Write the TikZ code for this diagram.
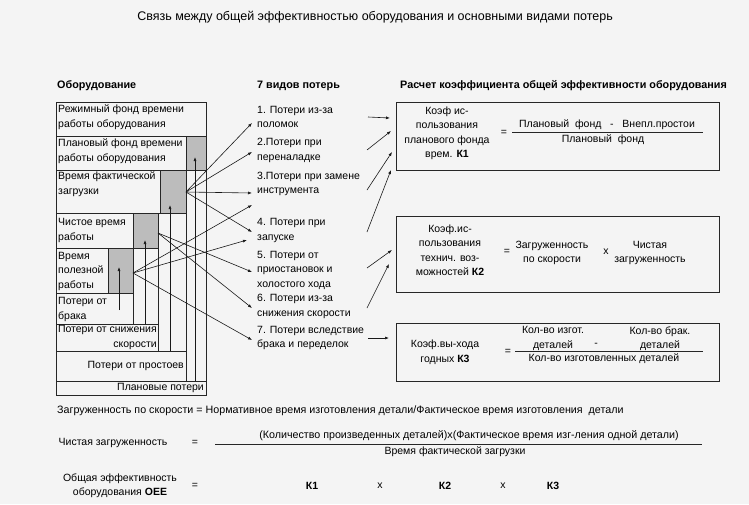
\documentclass[tikz,border=0pt]{standalone}
\usepackage{fontspec}
\setmainfont{Liberation Sans}
\usetikzlibrary{arrows.meta}
\definecolor{lossgray}{RGB}{188,188,188}
\definecolor{paper}{RGB}{244,244,244}

\begin{document}
\begin{tikzpicture}[x=1pt, y=-1pt,
    txt/.style={inner sep=0pt, font=\fontsize{10.5}{14.5}\selectfont},
    hd/.style={inner sep=0pt, font=\fontsize{10.8}{14}\selectfont\bfseries},
    frame/.style={draw=black!85, line width=0.6pt},
    arr/.style={draw=black!90, line width=0.6pt, -{Latex[length=4pt,width=3pt]}}]
  \path[use as bounding box, fill=paper] (0,0) rectangle (749,504);

  \node[txt, font=\fontsize{12.5}{14}\selectfont] (title) at (375,17)
    {Связь между общей эффективностью оборудования и основными видами потерь};

  % headings
  \node[hd, anchor=west] (hequip) at (57,86) {Оборудование};
  \node[hd, anchor=west] (hloss) at (257,86) {7 видов потерь};
  \node[hd, anchor=west] (hcalc) at (400,86) {Расчет коэффициента общей эффективности оборудования};

  % staircase of equipment time
  \draw[frame] (56,102) rectangle (206,136);
  \foreach \ytop/\ybot/\xa/\xb in {136/170/186/206, 170/213/160/186, 213/248/133/158, 248/293/108/133}{
    \draw[frame] (56,\ytop) rectangle (\xa,\ybot);
    \filldraw[frame, fill=lossgray] (\xa,\ytop) rectangle (\xb,\ybot);
  }
  % loss boxes, their right edges run up to the gray parts
  \draw[frame] (56,293) rectangle (133,324);
  \draw[frame] (56,324) rectangle (158,351);
  \draw[frame] (56,351) rectangle (186,381);
  \draw[frame] (56,381) rectangle (206,395);
  \draw[frame] (158,248) -- (158,324);
  \draw[frame] (186,213) -- (186,351);
  \draw[frame] (206,170) -- (206,381);

  \node[txt, anchor=west, align=left] (rf) at (58,117) {Режимный фонд времени\\работы оборудования};
  \node[txt, anchor=west, align=left] (pf) at (58,151) {Плановый фонд времени\\работы оборудования};
  \node[txt, anchor=west, align=left] (fz-t) at (58,184) {Время фактической\\загрузки};
  \node[txt, anchor=west, align=left] (cv-t) at (58,230.5) {Чистое время\\работы};
  \node[txt, anchor=west, align=left] (pv-t) at (58,271) {Время\\полезной\\работы};
  \node[txt, anchor=west, align=left] (lbrak) at (58,309.5) {Потери от\\брака};
  \node[txt, anchor=east, align=right] (lspeed) at (157,337.5) {Потери от снижения\\скорости};
  \node[txt, anchor=east] (ldown) at (184,366) {Потери от простоев};
  \node[txt, anchor=east] (lplan) at (204,388) {Плановые потери};

  % vertical loss arrows
  \coordinate (brak-s) at (119,310);  \coordinate (brak-e) at (119,267);
  \coordinate (speed-s) at (145,324); \coordinate (speed-e) at (145,240);
  \coordinate (down-s) at (170,351);  \coordinate (down-e) at (170,205);
  \coordinate (plan-s) at (195,381);  \coordinate (plan-e) at (195,157);
  \draw[arr] (brak-s) -- (brak-e);
  \draw[arr] (speed-s) -- (speed-e);
  \draw[arr] (down-s) -- (down-e);
  \draw[arr] (plan-s) -- (plan-e);

  % seven losses
  \node[txt, anchor=west, align=left] (p1) at (257,117) {1. Потери из-за\\поломок};
  \node[txt, anchor=west, align=left] (p2) at (257,150.5) {2.Потери при\\переналадке};
  \node[txt, anchor=west, align=left] (p3) at (257,184) {3.Потери при замене\\инструмента};
  \node[txt, anchor=west, align=left] (p4) at (257,230.5) {4. Потери при\\запуске};
  \node[txt, anchor=west, align=left] (p5) at (257,270) {5. Потери от\\приостановок и\\холостого хода};
  \node[txt, anchor=west, align=left] (p6) at (257,306.5) {6. Потери из-за\\снижения скорости};
  \node[txt, anchor=west, align=left] (p7) at (257,338) {7. Потери вследствие\\брака и переделок};

  % fans from the gray parts
  \coordinate (fz) at (186,192);
  \coordinate (cv) at (158,233);
  \coordinate (pv) at (133,273);
  \coordinate (f1) at (252,123);
  \coordinate (f2) at (252,152);
  \coordinate (f3) at (252,193);
  \coordinate (f4) at (252,232);
  \coordinate (c5) at (252,272);
  \coordinate (c6) at (252,308);
  \coordinate (u3) at (252,205);
  \coordinate (u4) at (247,240);
  \coordinate (u7) at (252,340);
  \foreach \t in {f1,f2,f3,f4} \draw[arr] (fz) -- (\t);
  \foreach \t in {c5,c6} \draw[arr] (cv) -- (\t);
  \foreach \t in {u3,u4,u7} \draw[arr] (pv) -- (\t);

  % coefficient boxes
  \node[frame, anchor=north west, minimum width=323, minimum height=68, inner sep=0] (k1) at (396,102) {};
  \node[frame, anchor=north west, minimum width=323, minimum height=76, inner sep=0] (k2) at (396,216) {};
  \node[frame, anchor=north west, minimum width=323, minimum height=58, inner sep=0] (k3) at (396,323) {};

  % short arrows into the boxes
  \coordinate (a1s) at (368,117); \coordinate (a1e) at (390,118);
  \coordinate (a2s) at (367,150); \coordinate (a2e) at (391,131);
  \coordinate (a3s) at (367,190); \coordinate (a3e) at (392,152);
  \coordinate (a4s) at (367,232); \coordinate (a4e) at (391,170);
  \coordinate (a5s) at (367,268); \coordinate (a5e) at (392,250);
  \coordinate (a6s) at (367,308); \coordinate (a6e) at (389,264);
  \coordinate (a7s) at (368,338); \coordinate (a7e) at (389,338);
  \foreach \n in {1,...,7} \draw[arr] (a\n s) -- (a\n e);

  % K1
  \node[txt, align=center] (k1name) at (447,133.5) {Коэф ис-\\пользования\\планового фонда\\врем. \textbf{К1}};
  \node[txt] (k1eq) at (504,133) {=};
  \node[txt] (k1num) at (607,125) {Плановый\ \ фонд\ \ \ -\ \ \ Внепл.простои};
  \node[txt] (k1den) at (603,139.5) {Плановый\ \ фонд};
  \coordinate (k1l) at (512,132); \coordinate (k1r) at (703,132);
  \draw[frame] (k1l) -- (k1r);

  % K2
  \node[txt, align=center] (k2name) at (450,250) {Коэф.ис-\\пользования\\технич. воз-\\можностей \textbf{К2}};
  \node[txt] (k2eq) at (507,252) {=};
  \node[txt, align=center] (k2a) at (552,253) {Загруженность\\по скорости};
  \node[txt] (k2x) at (606,252) {х};
  \node[txt, align=center] (k2b) at (650,253) {Чистая\\загруженность};

  % K3
  \node[txt, align=center] (k3name) at (445,352) {Коэф.вы-хода\\годных \textbf{К3}};
  \node[txt] (k3eq) at (508,352) {=};
  \node[txt, align=center] (k3a) at (553,338.5) {Кол-во изгот.\\деталей};
  \node[txt] (k3m) at (596,345) {-};
  \node[txt, align=center] (k3b) at (660,338.5) {Кол-во брак.\\деталей};
  \coordinate (k3l) at (515,351); \coordinate (k3r) at (703,351);
  \draw[frame] (k3l) -- (k3r);
  \node[txt] (k3den) at (604,359) {Кол-во изготовленных деталей};

  % formulas below
  \node[txt, anchor=west, font=\fontsize{10.7}{13}\selectfont] (zs) at (57,411)
    {Загруженность по скорости = Нормативное время изготовления детали/Фактическое время изготовления\ \ детали};
  \node[txt] (cz) at (113,443) {Чистая загруженность};
  \node[txt] (czeq) at (195,443) {=};
  \node[txt, font=\fontsize{10.7}{13}\selectfont] (cznum) at (469,436) {(Количество произведенных деталей)х(Фактическое время изг-ления одной детали)};
  \coordinate (czl) at (215,444); \coordinate (czr) at (702,444);
  \draw[frame] (czl) -- (czr);
  \node[txt] (czden) at (455,452) {Время фактической загрузки};

  \node[txt, align=center] (oee) at (120,485.5) {Общая эффективность\\оборудования \textbf{OEE}};
  \node[txt] (oeeeq) at (195,486) {=};
  \node[txt, font=\fontsize{10.5}{12}\selectfont\bfseries] (ok1) at (312,486) {К1};
  \node[txt] (ox1) at (380,486) {х};
  \node[txt, font=\fontsize{10.5}{12}\selectfont\bfseries] (ok2) at (445,486) {К2};
  \node[txt] (ox2) at (503,486) {х};
  \node[txt, font=\fontsize{10.5}{12}\selectfont\bfseries] (ok3) at (553,486) {К3};
\end{tikzpicture}
\end{document}
